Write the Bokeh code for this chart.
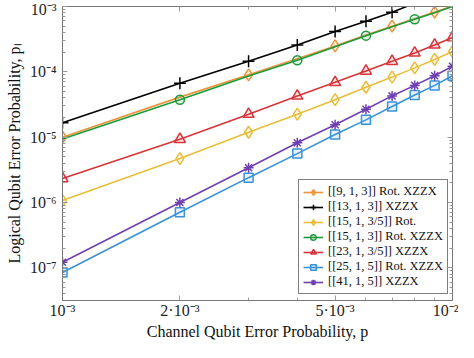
from bokeh.plotting import figure
from bokeh.models import (ColumnDataSource, CDSView, IndexFilter, FixedTicker,
                          LogAxis, Legend, LegendItem, Range1d)
from bokeh.embed import file_html
from bokeh.resources import INLINE

# ---------------- data ----------------
p_vals = [1e-3, 2e-3, 3e-3, 4e-3, 5e-3, 6e-3, 7e-3, 8e-3, 9e-3, 1e-2]

code_9_rot_xzzx = [1.0e-5, 4.1e-5, 9.0e-5, 1.58e-4, 2.49e-4, 3.65e-4, 5.0e-4, 6.5e-4, 8.2e-4, 1.02e-3]
code_13_xzzx = [1.66e-5, 6.7e-5, 1.45e-4, 2.58e-4, 4.15e-4, 5.95e-4, 8.2e-4, 1.12e-3, 1.4e-3, 1.7e-3]
code_15_rot = [1.07e-6, 4.7e-6, 1.19e-5, 2.25e-5, 3.75e-5, 5.8e-5, 8.3e-5, 1.15e-4, 1.55e-4, 2.05e-4]
code_15_rot_xzzx = [9.4e-6, 3.75e-5, 8.6e-5, 1.5e-4, 2.42e-4, 3.58e-4, 4.9e-4, 6.4e-4, 8.0e-4, 1.0e-3]
code_23_xzzx = [2.33e-6, 9.3e-6, 2.25e-5, 4.28e-5, 6.9e-5, 1.03e-4, 1.45e-4, 1.95e-4, 2.58e-4, 3.35e-4]
code_25_rot_xzzx = [8.5e-8, 7.1e-7, 2.4e-6, 5.6e-6, 1.1e-5, 1.84e-5, 2.95e-5, 4.43e-5, 6.2e-5, 8.7e-5]
code_41_xzzx = [1.22e-7, 1.0e-6, 3.4e-6, 8.2e-6, 1.55e-5, 2.67e-5, 4.28e-5, 6.2e-5, 8.7e-5, 1.22e-4]

series_labels = [
    "[[9, 1, 3]] Rot. XZZX",
    "[[13, 1, 3]] XZZX",
    "[[15, 1, 3/5]] Rot.",
    "[[15, 1, 3]] Rot. XZZX",
    "[[23, 1, 3/5]] XZZX",
    "[[25, 1, 5]] Rot. XZZX",
    "[[41, 1, 5]] XZZX",
]

x_title = "Channel Qubit Error Probability, p"
y_title = "Logical Qubit Error Probability, pₗ"

x_major = [1e-3, 2e-3, 5e-3, 1e-2]
x_major_labels = ["10⁻³", "2·10⁻³", "5·10⁻³", "10⁻²"]
x_minor = [3e-3, 4e-3, 6e-3, 7e-3, 8e-3, 9e-3]
y_major = [1e-7, 1e-6, 1e-5, 1e-4, 1e-3]
y_major_labels = ["10⁻⁷", "10⁻⁶", "10⁻⁵", "10⁻⁴", "10⁻³"]
y_minor = [k * 10.0 ** e for e in range(-8, -3) for k in range(2, 10)]

# ---------------- styles ----------------
FONT = "Liberation Serif"
styles = [
    dict(col="s9", color="#EC9438", marker="diamond", size=12, idx=[0, 2, 4, 6, 8]),
    dict(col="s13", color="#000000", marker="cross", size=12, idx=[0, 1, 2, 3, 4, 5, 6]),
    dict(col="s15r", color="#E7BE3A", marker="diamond", size=12, idx=None),
    dict(col="s15x", color="#1E9A3C", marker="circle", size=9, idx=[1, 3, 5, 7]),
    dict(col="s23", color="#D8343A", marker="triangle", size=11, idx=None),
    dict(col="s25", color="#3A92D8", marker="square", size=9, idx=None),
    dict(col="s41", color="#7040B0", marker="asterisk", size=10, idx=None),
]

src = ColumnDataSource(dict(
    p=p_vals, s9=code_9_rot_xzzx, s13=code_13_xzzx, s15r=code_15_rot,
    s15x=code_15_rot_xzzx, s23=code_23_xzzx, s25=code_25_rot_xzzx, s41=code_41_xzzx))

p = figure(width=458, height=342, x_axis_type="log", y_axis_type="log",
           x_range=Range1d(1e-3, 1e-2), y_range=Range1d(10 ** -7.5, 1e-3),
           output_backend="svg", toolbar_location=None,
           min_border_left=62, min_border_right=6, min_border_top=6, min_border_bottom=36)
p.grid.visible = False
p.outline_line_color = "#666666"
p.outline_line_width = 1
p.background_fill_color = "white"
p.border_fill_color = "white"

AX_COLOR = "#777777"


def style_axis(ax, show_labels):
    ax.axis_line_color = AX_COLOR
    ax.major_tick_line_color = "#999999"
    ax.minor_tick_line_color = "#999999"
    ax.major_tick_in = 5
    ax.major_tick_out = 0
    ax.minor_tick_in = 3
    ax.minor_tick_out = 0
    if show_labels:
        ax.major_label_text_font = FONT
        ax.major_label_text_font_size = "16px"
        ax.major_label_text_color = "#222222"
        ax.axis_label_text_font = FONT
        ax.axis_label_text_font_size = "16px"
        ax.axis_label_text_font_style = "normal"
        ax.axis_label_text_color = "#111111"
    else:
        ax.major_label_text_font_size = "0px"
        ax.major_label_standoff = 0


xt = FixedTicker(ticks=x_major, minor_ticks=x_minor)
yt = FixedTicker(ticks=y_major, minor_ticks=y_minor)

xa = p.xaxis[0]
xa.ticker = xt
xa.major_label_overrides = dict(zip(x_major, x_major_labels))
style_axis(xa, True)
xa.major_label_standoff = 1
xa.axis_label = x_title
xa.axis_label_standoff = 1

ya = p.yaxis[0]
ya.ticker = yt
ya.major_label_overrides = dict(zip(y_major, y_major_labels))
style_axis(ya, True)
ya.major_label_standoff = 6
ya.axis_label = y_title
ya.axis_label_standoff = 4

top_ax = LogAxis(ticker=FixedTicker(ticks=x_major, minor_ticks=x_minor))
style_axis(top_ax, False)
top_ax.major_label_overrides = {t: "" for t in x_major}
p.add_layout(top_ax, "above")
right_ax = LogAxis(ticker=FixedTicker(ticks=y_major, minor_ticks=y_minor))
style_axis(right_ax, False)
right_ax.major_label_overrides = {t: "" for t in y_major}
p.add_layout(right_ax, "right")

items = []
for st, lab in zip(styles, series_labels):
    rl = p.line(x="p", y=st["col"], source=src, line_color=st["color"], line_width=1.6)
    kw = {}
    if st["idx"] is not None:
        kw["view"] = CDSView(filter=IndexFilter(st["idx"]))
    rm = p.scatter(x="p", y=st["col"], source=src, marker=st["marker"], size=st["size"],
                   line_color=st["color"], fill_color=st["color"], fill_alpha=0.12,
                   line_width=1.5, **kw)
    items.append(LegendItem(label=lab, renderers=[rl, rm]))

legend = Legend(items=items, location=(236, 6))
legend.label_text_font = FONT
legend.label_text_font_size = "12.5px"
legend.label_text_color = "#111111"
legend.glyph_width = 20
legend.glyph_height = 14
legend.label_height = 14
legend.label_standoff = 5
legend.spacing = 0
legend.padding = 4
legend.margin = 0
legend.border_line_color = "black"
legend.border_line_width = 1.5
legend.background_fill_color = "white"
legend.background_fill_alpha = 1.0
p.add_layout(legend)

open("out.html", "w").write(file_html(p, INLINE))
